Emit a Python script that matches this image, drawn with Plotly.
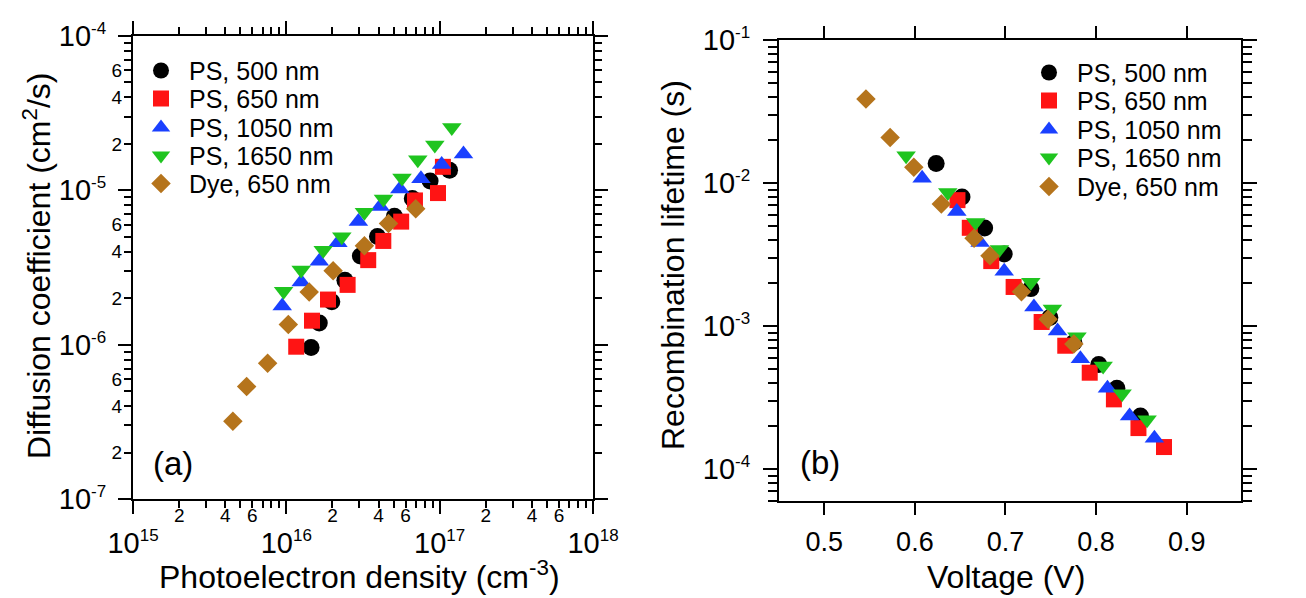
import plotly.graph_objects as go

FONT = "Liberation Sans, Arial, Helvetica, sans-serif"
W, H = 1306, 598

# ---------------- Panel (a): diffusion coefficient vs photoelectron density
n_ps500 = [1.45e16, 1.64e16, 1.98e16, 2.41e16, 3.04e16, 3.93e16, 5.07e16, 6.63e16, 8.66e16, 1.16e17]
D_ps500 = [0.96e-6, 1.38e-6, 1.90e-6, 2.61e-6, 3.75e-6, 5.02e-6, 6.80e-6, 8.86e-6, 1.15e-5, 1.35e-5]

n_ps650 = [1.16e16, 1.47e16, 1.87e16, 2.51e16, 3.42e16, 4.29e16, 5.61e16, 6.90e16, 9.75e16, 1.05e17]
D_ps650 = [0.97e-6, 1.43e-6, 1.96e-6, 2.44e-6, 3.53e-6, 4.70e-6, 6.27e-6, 8.60e-6, 9.60e-6, 1.42e-5]

n_ps1050 = [9.4e15, 1.25e16, 1.64e16, 2.17e16, 2.95e16, 4.09e16, 5.50e16, 7.55e16, 1.03e17, 1.43e17]
D_ps1050 = [1.78e-6, 2.55e-6, 3.47e-6, 4.57e-6, 6.27e-6, 7.85e-6, 1.02e-5, 1.19e-5, 1.47e-5, 1.72e-5]

n_ps1650 = [9.6e15, 1.25e16, 1.74e16, 2.30e16, 3.23e16, 4.30e16, 5.68e16, 7.20e16, 9.30e16, 1.20e17]
D_ps1650 = [2.22e-6, 3.05e-6, 4.09e-6, 5.00e-6, 7.20e-6, 8.80e-6, 1.20e-5, 1.58e-5, 1.97e-5, 2.55e-5]

n_dye650 = [4.48e15, 5.51e15, 7.55e15, 1.03e16, 1.41e16, 2.02e16, 3.23e16, 4.64e16, 6.98e16]
D_dye650 = [3.19e-7, 5.35e-7, 7.59e-7, 1.35e-6, 2.19e-6, 3.01e-6, 4.37e-6, 6.10e-6, 7.59e-6]

# ---------------- Panel (b): recombination lifetime vs voltage
V_ps500 = [0.6235, 0.652, 0.677, 0.6986, 0.728, 0.749, 0.7755, 0.803, 0.823, 0.849]
t_ps500 = [1.37e-2, 8.0e-3, 4.86e-3, 3.2e-3, 1.83e-3, 1.15e-3, 7.7e-4, 5.4e-4, 3.68e-4, 2.36e-4]

V_ps650 = [0.647, 0.6606, 0.6843, 0.709, 0.7399, 0.766, 0.793, 0.8197, 0.8468, 0.875]
t_ps650 = [7.6e-3, 4.87e-3, 2.85e-3, 1.88e-3, 1.07e-3, 7.3e-4, 4.73e-4, 3.08e-4, 1.94e-4, 1.43e-4]

V_ps1050 = [0.608, 0.6463, 0.672, 0.6986, 0.7314, 0.7575, 0.7827, 0.8126, 0.837, 0.8644]
t_ps1050 = [1.08e-2, 6.34e-3, 3.84e-3, 2.42e-3, 1.36e-3, 9.25e-4, 5.92e-4, 3.68e-4, 2.36e-4, 1.65e-4]

V_ps1650 = [0.5903, 0.6363, 0.667, 0.6933, 0.728, 0.7518, 0.7789, 0.8078, 0.8287, 0.8563]
t_ps1650 = [1.55e-2, 8.6e-3, 5.3e-3, 3.44e-3, 2.03e-3, 1.32e-3, 8.45e-4, 5.26e-4, 3.37e-4, 2.22e-4]

V_dye650 = [0.546, 0.5727, 0.5988, 0.6292, 0.6653, 0.6829, 0.7176, 0.747, 0.7755]
t_dye650 = [3.87e-2, 2.08e-2, 1.29e-2, 7.15e-3, 4.11e-3, 3.11e-3, 1.74e-3, 1.12e-3, 7.5e-4]

series_names = ["PS, 500 nm", "PS, 650 nm", "PS, 1050 nm", "PS, 1650 nm", "Dye, 650 nm"]
series_colors = ["#000000", "#ff1414", "#1a40ff", "#1fc41f", "#b5741c"]
series_symbols = ["circle", "square", "triangle-up", "triangle-down", "diamond"]
series_sizes = [17, 16, 17, 17, 15]

left_x = [n_ps500, n_ps650, n_ps1050, n_ps1650, n_dye650]
left_y = [D_ps500, D_ps650, D_ps1050, D_ps1650, D_dye650]
right_x = [V_ps500, V_ps650, V_ps1050, V_ps1650, V_dye650]
right_y = [t_ps500, t_ps650, t_ps1050, t_ps1650, t_dye650]

# tick labels
SUP = "<sup><span style='font-size:17px'>%s</span></sup>"
x1_major = [1e15, 1e16, 1e17, 1e18]
x1_major_text = ["10" + SUP % e for e in ["15", "16", "17", "18"]]
y1_major = [1e-7, 1e-6, 1e-5, 1e-4]
y1_major_text = ["10" + SUP % e for e in ["-7", "-6", "-5", "-4"]]
minor_label_mults = [2, 4, 6]
y2_major = [1e-4, 1e-3, 1e-2, 1e-1]
y2_major_text = ["10" + SUP % e for e in ["-4", "-3", "-2", "-1"]]
x2_ticks = [0.5, 0.6, 0.7, 0.8, 0.9]
x2_tick_text = ["0.5", "0.6", "0.7", "0.8", "0.9"]

def minor_vals(decades):
    return [m * d for d in decades for m in range(2, 10)]

def minor_labeled(decades):
    return [m * d for d in decades for m in minor_label_mults]

x1_minor = minor_vals([1e15, 1e16, 1e17])
y1_minor = minor_vals([1e-7, 1e-6, 1e-5])
y2_minor = [m * 1e-5 for m in range(6, 10)] + minor_vals([1e-4, 1e-3, 1e-2])
x1_lab = minor_labeled([1e15, 1e16, 1e17])
y1_lab = minor_labeled([1e-7, 1e-6, 1e-5])

# pixel geometry -> paper domain
def px_x(a, b):
    return [a / W, b / W]

def px_y(top, bottom):
    return [1 - bottom / H, 1 - top / H]

# legend placement (one small legend per entry, pixel centres of the symbols)
LEG_FS = 25
LEG_ITEMW = 46
left_leg_x, left_leg_rows = 161, [69, 97, 126, 154, 182]
right_leg_x, right_leg_rows = 1049, [71, 99, 128, 156, 185]

fig = go.Figure()

for i in range(5):
    fig.add_trace(go.Scatter(
        x=left_x[i], y=left_y[i], mode="markers", name=series_names[i],
        marker=dict(symbol=series_symbols[i], size=series_sizes[i], color=series_colors[i], line=dict(width=0)),
        xaxis="x", yaxis="y", legend="legend" if i == 0 else "legend%d" % (i + 1)))
for i in range(5):
    fig.add_trace(go.Scatter(
        x=right_x[i], y=right_y[i], mode="markers", name=series_names[i],
        marker=dict(symbol=series_symbols[i], size=series_sizes[i], color=series_colors[i], line=dict(width=0)),
        xaxis="x2", yaxis="y2", legend="legend%d" % (i + 6)))
# empty trace to activate the overlay axes that carry the small labels
fig.add_trace(go.Scatter(x=[None], y=[None], xaxis="x3", yaxis="y3", showlegend=False, hoverinfo="skip"))

axis_common = dict(showline=True, linecolor="black", linewidth=2, mirror="allticks", automargin=False,
                   ticks="outside", tickcolor="black", tickwidth=2, showgrid=False, zeroline=False)
overlay_common = dict(ticks="", showline=False, showgrid=False, zeroline=False, automargin=False)

fig.update_layout(
    width=W, height=H,
    margin=dict(l=0, r=0, t=0, b=0, autoexpand=False),
    paper_bgcolor="white", plot_bgcolor="white",
    font=dict(family=FONT, color="black"),
    xaxis=dict(**axis_common, type="log", range=[15, 18], domain=px_x(133, 593), anchor="y",
               tickmode="array", tickvals=x1_major, ticktext=x1_major_text, ticklen=13,
               tickfont=dict(size=29), ticklabelstandoff=4,
               minor=dict(tickmode="array", tickvals=x1_minor, ticklen=7, tickwidth=2, ticks="outside", tickcolor="black")),
    yaxis=dict(**axis_common, type="log", range=[-7, -4], domain=px_y(36, 499), anchor="x",
               tickmode="array", tickvals=y1_major, ticktext=y1_major_text, ticklen=13,
               tickfont=dict(size=29), ticklabelstandoff=6,
               minor=dict(tickmode="array", tickvals=y1_minor, ticklen=7, tickwidth=2, ticks="outside", tickcolor="black")),
    xaxis3=dict(**overlay_common, type="log", range=[15, 18], overlaying="x", anchor="y", side="bottom",
                tickmode="array", tickvals=x1_lab, ticktext=[str(v) for v in minor_label_mults] * 3,
                tickfont=dict(size=19), ticklabelstandoff=3),
    yaxis3=dict(**overlay_common, type="log", range=[-7, -4], overlaying="y", anchor="x", side="left",
                tickmode="array", tickvals=y1_lab, ticktext=[str(v) for v in minor_label_mults] * 3,
                tickfont=dict(size=19), ticklabelstandoff=10),
    xaxis2=dict(**axis_common, type="linear", range=[0.45, 0.96], domain=px_x(779, 1241), anchor="y2",
                tickmode="array", tickvals=x2_ticks, ticktext=x2_tick_text, ticklen=12,
                tickfont=dict(size=27), ticklabelstandoff=4),
    yaxis2=dict(**axis_common, type="log", range=[-4.2218, -1], domain=px_y(40, 501), anchor="x2",
                tickmode="array", tickvals=y2_major, ticktext=y2_major_text, ticklen=14,
                tickfont=dict(size=29), ticklabelstandoff=7,
                minor=dict(tickmode="array", tickvals=y2_minor, ticklen=9, tickwidth=2, ticks="outside", tickcolor="black")),
    showlegend=True,
)

row_off = LEG_FS * 1.3 / 2 + 5
sym_off = (LEG_ITEMW + 10) / 2
legend_defs = {}
for i in range(5):
    legend_defs["legend" if i == 0 else "legend%d" % (i + 1)] = (left_leg_x, left_leg_rows[i])
    legend_defs["legend%d" % (i + 6)] = (right_leg_x, right_leg_rows[i])
for key, (cx, cy) in legend_defs.items():
    fig.update_layout({key: dict(x=(cx - sym_off) / W, y=1 - (cy - row_off) / H, xanchor="left", yanchor="top",
                                 bgcolor="rgba(0,0,0,0)", borderwidth=0, itemwidth=LEG_ITEMW,
                                 font=dict(size=LEG_FS, family=FONT, color="black"), itemsizing="trace")})

annos = [
    dict(text="Diffusion coefficient (cm<sup>2</sup>/s)", x=37 / W, y=1 - 266 / H, textangle=-90, size=32),
    dict(text="Photoelectron density (cm<sup>-3</sup>)", x=359 / W, y=1 - 575 / H, textangle=0, size=32),
    dict(text="Recombination lifetime (s)", x=673 / W, y=1 - 265 / H, textangle=-90, size=32),
    dict(text="Voltage (V)", x=1006 / W, y=1 - 577 / H, textangle=0, size=32),
    dict(text="(a)", x=173 / W, y=1 - 463 / H, textangle=0, size=33),
    dict(text="(b)", x=820 / W, y=1 - 462 / H, textangle=0, size=33),
]
for a in annos:
    fig.add_annotation(text=a["text"], x=a["x"], y=a["y"], xref="paper", yref="paper",
                       xanchor="center", yanchor="middle", textangle=a["textangle"],
                       showarrow=False, font=dict(size=a["size"], family=FONT, color="black"))

fig.write_html("out.html")
